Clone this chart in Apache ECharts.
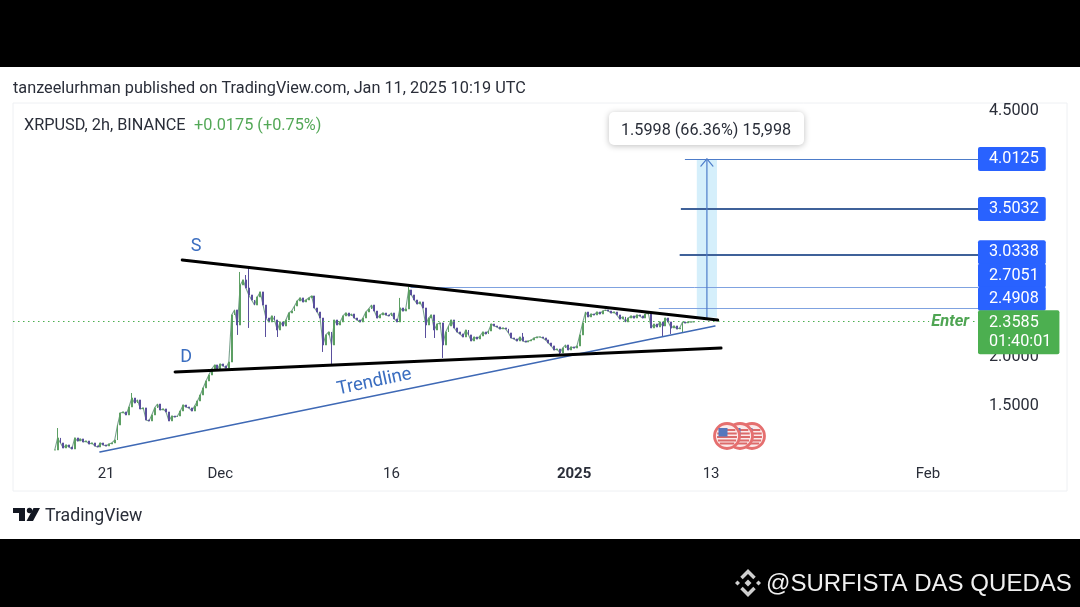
<!DOCTYPE html>
<html><head><meta charset="utf-8">
<style>html,body{margin:0;padding:0;background:#000}#c{width:1080px;height:607px}</style>
<script src="https://cdn.jsdelivr.net/npm/echarts@6/dist/echarts.min.js"></script>
</head><body><div id="c"></div>
<script>
const firstCandle = '2024-11-16T12:00:00Z';
const stepHours = 6;
const closes = [1.055,1.177,1.126,1.075,1.106,1.085,1.065,1.177,1.146,1.167,1.136,1.146,1.116,1.126,1.096,1.085,1.126,1.106,1.096,1.116,1.126,1.156,
1.309,1.431,1.441,1.411,1.492,1.583,1.533,1.563,1.472,1.482,1.360,1.350,1.411,1.482,1.522,1.461,1.472,1.441,1.350,1.400,1.390,1.400,1.451,1.512,1.492,1.482,1.451,1.502,1.553,1.614,1.685,1.756,1.817,1.878,1.919,1.878,1.929,1.909,1.888,1.949,
2.427,2.478,2.325,2.732,2.783,2.701,2.630,2.579,2.528,2.610,2.661,2.528,2.396,2.356,2.417,2.376,2.274,2.356,2.315,2.376,2.447,2.467,2.518,2.569,2.600,2.559,2.579,2.600,2.620,2.498,2.457,2.396,2.122,2.224,2.254,2.122,2.376,2.325,2.356,2.417,2.447,2.417,2.437,2.396,2.376,2.356,2.396,2.457,2.488,2.528,2.467,2.396,2.427,2.447,2.427,2.417,2.447,2.386,2.356,2.498,2.467,2.488,2.681,2.630,2.579,2.539,2.559,2.498,2.325,2.396,2.427,2.274,2.335,2.346,2.122,2.254,2.315,2.376,2.295,2.254,2.234,2.203,2.274,2.224,2.163,2.203,2.183,2.213,2.254,2.234,2.264,2.335,2.315,2.305,2.285,2.295,2.285,2.244,2.193,2.183,2.163,2.203,2.163,2.152,2.163,2.173,2.193,2.203,2.203,2.193,2.173,2.142,2.112,2.071,2.081,2.041,2.091,2.122,2.071,2.102,2.091,2.112,2.224,2.346,2.457,2.407,2.437,2.427,2.457,2.437,2.467,2.478,2.467,2.447,2.457,2.427,2.386,2.407,2.356,2.396,2.417,2.396,2.427,2.417,2.396,2.437,2.447,2.295,2.335,2.305,2.356,2.315,2.396,2.356,2.295,2.315,2.285,2.295,2.356,2.346,2.356,2.356,2.3585];
const wickHighs = {1:1.278,27:1.634,65:2.864,67:2.833,68:2.904,121:2.600,124:2.711,164:2.244};
const wickLows = {64:2.224,68:2.295,74:2.203,78:2.203,94:2.051,97:1.929,130:2.193,133:2.193,136:1.990,177:2.010,213:2.213,216:2.234,220:2.244};

const yTicks = [1.5,2,4.5];
const xTicks = [['2024-11-21T00:00:00Z','21'],['2024-12-01T00:00:00Z','Dec'],['2024-12-16T00:00:00Z','16'],['2025-01-01T00:00:00Z','{b|2025}'],['2025-01-13T00:00:00Z','13'],['2025-02-01T00:00:00Z','Feb']];
const xMin = '2024-11-12T20:12:00Z', xMax = '2025-02-05T09:16:00Z';

const resistance = [['2024-11-27T16:00:00Z',2.986],['2025-01-13T14:00:00Z',2.376]];
const support = [['2024-11-27T01:00:00Z',1.848],['2025-01-13T21:00:00Z',2.091]];
const trendline = [['2024-11-20T11:00:00Z',1.035],['2025-01-13T08:00:00Z',2.315]];
const levelPrices = [4.0125,3.5032,3.0338,2.7051,2.4908];
const levelStarts = ['2025-01-10T17:00:00Z','2025-01-10T08:30:00Z','2025-01-10T06:00:00Z','2024-12-17T16:00:00Z','2025-01-08T10:00:00Z'];
const lastPrice = 2.3585, countdown = '01:40:01';
const measureBand = [['2025-01-11T18:00:00Z',2.40],['2025-01-13T12:24:00Z',4.0125]];
const measureArrow = [['2025-01-12T15:15:00Z',2.40],['2025-01-12T15:15:00Z',4.0125]];
const arrowHead = [['2025-01-12T02:35:00Z',3.94],['2025-01-12T15:15:00Z',4.0125],['2025-01-13T03:55:00Z',3.94]];
const noteS = ['2024-11-28T21:00:00Z',3.118], noteD = ['2024-11-28T00:30:00Z',1.990];
const noteTrend = ['2024-12-14T12:00:00Z',1.746], noteEnter = ['2025-02-02T22:48:00Z',2.3585];

const FONT='Roboto';
const levelStyles = [
  {width:1,color:'#4d7cc9',dy:0},{width:2,color:'#3f6199',dy:0},{width:2,color:'#3f6199',dy:-3},
  {width:1,color:'#7fa2e0',dy:-12},{width:1,color:'#7fa2e0',dy:-10}
];
const T=Date.parse;
const P=p=>[T(p[0]),p[1]];
const t0 = T(firstCandle);
const times = closes.map((c,i)=>t0+i*stepHours*3600000);
const candles = closes.map((c,i)=>{
  const o = i? closes[i-1] : c;
  return [times[i],o,c,
    wickLows[i]!==undefined?wickLows[i]:Math.min(o,c),
    wickHighs[i]!==undefined?wickHighs[i]:Math.max(o,c)];
});
const lineSeries=(name,data,width,color,z)=>({name,type:'line',data:data.map(P),showSymbol:false,symbol:'none',silent:true,z:z||5,lineStyle:{width,color,cap:'round'},animation:false});
const note=(pos,text,color,font,rotate,extra)=>({type:'scatter',data:[P(pos)],symbolSize:1,itemStyle:{color:'transparent',opacity:1},silent:true,z:8,animation:false,
  label:Object.assign({show:true,position:'inside',formatter:text,color,fontFamily:FONT,fontSize:font,rotate:rotate||0,opacity:1},extra||{})});

const levelLines = levelPrices.map((v,i)=>{const s=levelStyles[i];return [
  {coord:[T(levelStarts[i]),v],lineStyle:{width:s.width,color:s.color,type:'solid'},label:{show:true,position:'end',distance:0,offset:[0,s.dy],formatter:v.toFixed(4),color:'#fff',fontFamily:FONT,fontSize:16.2,backgroundColor:'#2962ff',padding:[5,7,3,11],lineHeight:16,borderRadius:2,align:'left',verticalAlign:'middle'}},
  {coord:[T(xMax),v]}
];});

function flag(cx,cy){
  const r=11.5, out=[];
  out.push({type:'circle',shape:{cx,cy,r:r+1},style:{fill:'#fbeaea',stroke:'#e56f6f',lineWidth:2.8},z:30});
  [-7,-3.5,0,3.5,6.5].forEach(dy=>{
    const h=Math.sqrt(Math.max(r*r-(dy+1)*(dy+1),0))-1.5;
    out.push({type:'rect',shape:{x:cx-h,y:cy+dy,width:2*h,height:2},style:{fill:'#dc6a6a'},z:30});
  });
  out.push({type:'rect',shape:{x:cx-8.5,y:cy-8,width:9,height:8.5},style:{fill:'#5577bd'},z:30});
  return out;
}
const chrome=[
  {type:'rect',shape:{x:0,y:67,width:1080,height:472},style:{fill:'#fff'},z:-5},
  {type:'rect',shape:{x:13,y:103,width:1054,height:388},style:{fill:'#fff',stroke:'#eef0f3',lineWidth:1},z:-4},
  {type:'text',x:13,y:88.5,style:{text:'tanzeelurhman published on TradingView.com, Jan 11, 2025 10:19 UTC',fill:'#2a2e39',fontFamily:FONT,fontSize:16.27,verticalAlign:'middle'},z:20},
  {type:'text',x:24,y:125.5,style:{text:'XRPUSD, 2h, BINANCE',fill:'#2a2e39',fontFamily:FONT,fontSize:16.3,verticalAlign:'middle'},z:20},
  {type:'text',x:194,y:125.5,style:{text:'+0.0175 (+0.75%)',fill:'#53a857',fontFamily:FONT,fontSize:16.3,verticalAlign:'middle'},z:20},
  {type:'rect',shape:{x:609,y:112,width:195,height:33,r:5},style:{fill:'#fff',shadowBlur:6,shadowColor:'rgba(0,0,0,0.25)',shadowOffsetY:1},z:25},
  {type:'text',x:621,y:131,style:{text:'1.5998 (66.36%) 15,998',fill:'#2a2e39',fontFamily:FONT,fontSize:16.2,verticalAlign:'middle'},z:26},
  ...flag(752,436),...flag(740,436),...flag(727,436),
  {type:'polygon',shape:{points:[[13,508],[25,508],[25,521],[19,521],[19,513],[13,513]]},style:{fill:'#131722'},z:20},
  {type:'circle',shape:{cx:29.5,cy:510.5,r:2.7},style:{fill:'#131722'},z:20},
  {type:'polygon',shape:{points:[[33.5,508],[40,508],[33,521],[26.5,521]]},style:{fill:'#131722'},z:20},
  {type:'text',x:45,y:517,style:{text:'TradingView',fill:'#2a2e39',fontFamily:FONT,fontSize:17.7,verticalAlign:'middle'},z:20},
  {type:'polyline',shape:{points:[[741.5,578],[748,571.5],[754.5,578]]},style:{stroke:'#cfcfcf',lineWidth:3.5,fill:null},z:20},
  {type:'polyline',shape:{points:[[741.5,588],[748,594.5],[754.5,588]]},style:{stroke:'#cfcfcf',lineWidth:3.5,fill:null},z:20},
  {type:'polygon',shape:{points:[[748,579.5],[751.5,583],[748,586.5],[744.5,583]]},style:{fill:'#cfcfcf'},z:20},
  {type:'polygon',shape:{points:[[737.5,580.5],[740,583],[737.5,585.5],[735,583]]},style:{fill:'#cfcfcf'},z:20},
  {type:'polygon',shape:{points:[[758.5,580.5],[761,583],[758.5,585.5],[756,583]]},style:{fill:'#cfcfcf'},z:20},
  {type:'text',x:766,y:584.5,style:{text:'@SURFISTA DAS QUEDAS',fill:'#f0f0f0',fontFamily:'Liberation Sans',fontSize:24.05,verticalAlign:'middle'},z:20}
];

const chart=echarts.init(document.getElementById('c'),null,{renderer:'canvas'});
chart.setOption({
  animation:false,backgroundColor:'#000',
  graphic:{elements:chrome},
  grid:{left:13,right:102,top:103,height:357,containLabel:false},
  xAxis:{type:'value',scale:true,min:T(xMin),max:T(xMax),axisLine:{show:false},axisTick:{show:false},splitLine:{show:false},
    axisLabel:{customValues:xTicks.map(t=>T(t[0])),margin:7,color:'#2a2e39',fontFamily:FONT,fontSize:15,hideOverlap:false,
      formatter:v=>{const m=xTicks.find(t=>T(t[0])===+v);return m?m[1]:'';},
      rich:{b:{fontWeight:'bold',fontFamily:FONT,fontSize:15,color:'#2a2e39'}}}},
  yAxis:{type:'value',position:'right',min:0.953,max:4.581,axisLine:{show:false},axisTick:{show:false},splitLine:{show:false},
    axisLabel:{customValues:yTicks,margin:11,color:'#2a2e39',fontFamily:FONT,fontSize:16.2,padding:[5,0,0,0],formatter:v=>(+v).toFixed(4),hideOverlap:false}},
  series:[
    {name:'band',type:'line',data:[],z:1,silent:true,markArea:{silent:true,itemStyle:{color:'#d5effb'},data:[[{coord:P(measureBand[0])},{coord:P(measureBand[1])}]]}},
    {name:'XRPUSD path',type:'line',data:closes.map((c,i)=>[times[i],c]),showSymbol:false,symbol:'none',silent:true,z:2,lineStyle:{width:1.1,color:'#62907a',opacity:0.85}},
    {name:'XRPUSD',type:'candlestick',data:candles,encode:{x:0,y:[1,2,3,4]},barWidth:1.4,z:3,silent:true,
      itemStyle:{color:'#5c9f63',color0:'#5a4f9d',borderColor:'#5c9f63',borderColor0:'#5a4f9d',borderWidth:1}},
    lineSeries('Trendline',trendline,1.6,'#3f69b5',4),
    lineSeries('S',resistance,3,'#000',6),
    lineSeries('D',support,3,'#000',6),
    lineSeries('measure',measureArrow,1.2,'#4d7cc9',5),
    lineSeries('head',arrowHead,1.2,'#4d7cc9',5),
    {name:'levels',type:'line',data:[],z:4,silent:true,markLine:{silent:true,symbol:'none',animation:false,data:levelLines,z:4}},
    {name:'last',type:'line',data:[],z:5,silent:true,markLine:{silent:true,symbol:'none',animation:false,z:7,data:[[
      {coord:[T(xMin),lastPrice],lineStyle:{width:1.2,color:'#4caf50',type:[1.5,3.5]},label:{show:true,position:'end',distance:0,offset:[0,10.5],formatter:lastPrice.toFixed(4)+'\n'+countdown,color:'#fff',fontFamily:FONT,fontSize:16.2,backgroundColor:'#4caf50',padding:[5,8,0,11],lineHeight:19.5,borderRadius:2,align:'left',verticalAlign:'middle'}},
      {coord:[T(xMax),lastPrice]}]]}},
    note(noteS,'S','#3b6ec0',18),
    note(noteD,'D','#3b6ec0',18),
    note(noteTrend,'Trendline','#3b6ec0',18.5,12),
    note(noteEnter,'Enter','#4fa553',16.5,0,{fontStyle:'italic',fontWeight:'bold',backgroundColor:'#fff',padding:[1,2]})
  ]
});
</script></body></html>
